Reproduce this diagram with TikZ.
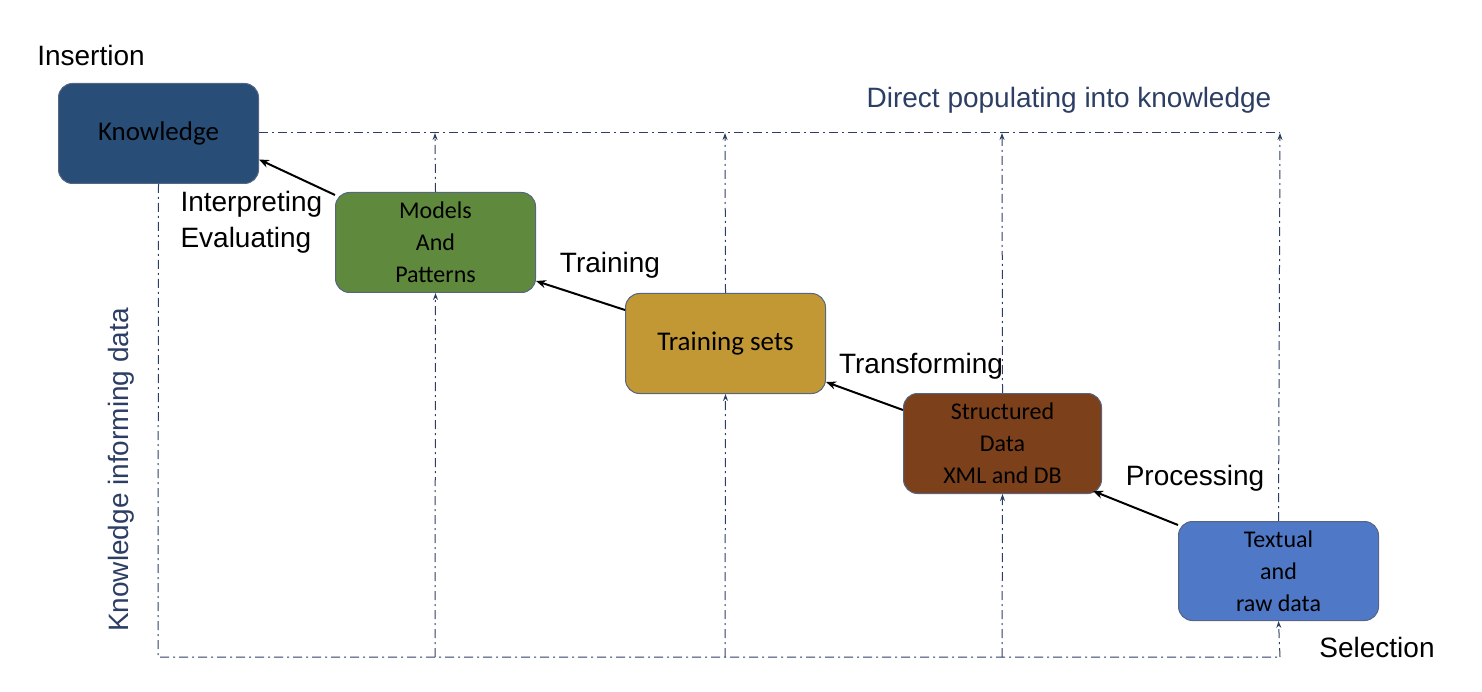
\documentclass[tikz,border=0pt]{standalone}
\usepackage{fontspec}
\setmainfont{Liberation Sans}
\newfontfamily\boxfont{Carlito}
\usetikzlibrary{arrows.meta}
\definecolor{dblue}{RGB}{44,62,100}
\begin{document}
\begin{tikzpicture}[x=1pt,y=-1pt,
  box/.style={draw=dblue!80,line width=1pt,rounded corners=14pt,minimum width=200pt,minimum height=100pt,align=center,font=\boxfont\fontsize{24}{32}\selectfont,text=black,anchor=north west},
  dd/.style={dblue,line width=1pt,dash pattern=on 9pt off 4pt on 2pt off 4pt},
  up/.style={dd,-{Stealth[length=7pt,width=5pt]}},
  conn/.style={black,line width=2pt,-{Stealth[length=10pt,width=8pt]}},
  lab/.style={font=\fontsize{28}{33}\selectfont,text=black,align=left}]
\useasboundingbox (0,0) rectangle (1482,692);
\node[box,fill={rgb,255:red,40;green,78;blue,120},font=\boxfont\fontsize{27}{32}\selectfont] (k) at (58,83) {Knowledge};
\node[box,fill={rgb,255:red,95;green,137;blue,60}] (m) at (335,192) {Models\\And\\Patterns};
\node[box,fill={rgb,255:red,193;green,152;blue,52},font=\boxfont\fontsize{27}{32}\selectfont] (t) at (625,293) {Training sets};
\node[box,fill={rgb,255:red,124;green,64;blue,27},minimum width=198pt] (s) at (903,393) {Structured\\Data\\XML and DB};
\node[box,fill={rgb,255:red,79;green,120;blue,198},minimum height=99pt] (r) at (1178,521) {Textual\\and\\raw data};
% frame
\coordinate (tr) at (1280,133);
\coordinate (bl) at (158,657);
\coordinate (br) at (1280,657);
\draw[dd] (k.east |- tr) -- (tr);
\draw[dd] (k.south) -- (bl) -- (br);
\foreach \n/\x in {m/435,t/725,s/1002,r/1280}{
  \coordinate (b\n) at (\x,657);
  \coordinate (u\n) at (\x,133);
  \draw[up] (b\n) -- (\n.south);
  \draw[up] (\n.north) -- (u\n);
}
% arrows
\draw[conn] ([yshift=-3pt]m.north west) -- ([yshift=-26pt]k.east);
\draw[conn] ([yshift=-17pt]t.north west) -- ([yshift=12pt]m.south east);
\draw[conn] ([yshift=-17pt]s.north west) -- ([yshift=12pt]t.south east);
\draw[conn] ([yshift=-4pt]r.north west) -- ([xshift=-9pt,yshift=3pt]s.south east);
% labels
\node[lab] (ins) at (91,55) {Insertion};
\node[lab,text=dblue] (dp) at (1069,100) {Direct populating into knowledge};
\node[lab,text=dblue,rotate=90] (kid) at (121,470) {Knowledge informing data};
\node[lab,anchor=west,font=\fontsize{28}{36}\selectfont] (ie) at (177,222) {Interpreting\\Evaluating};
\node[lab] (tr1) at (610,265) {Training};
\node[lab] (tf) at (921,366) {Transforming};
\node[lab] (pr) at (1195,478) {Processing};
\node[lab] (se) at (1377,647) {Selection};
\end{tikzpicture}
\end{document}
